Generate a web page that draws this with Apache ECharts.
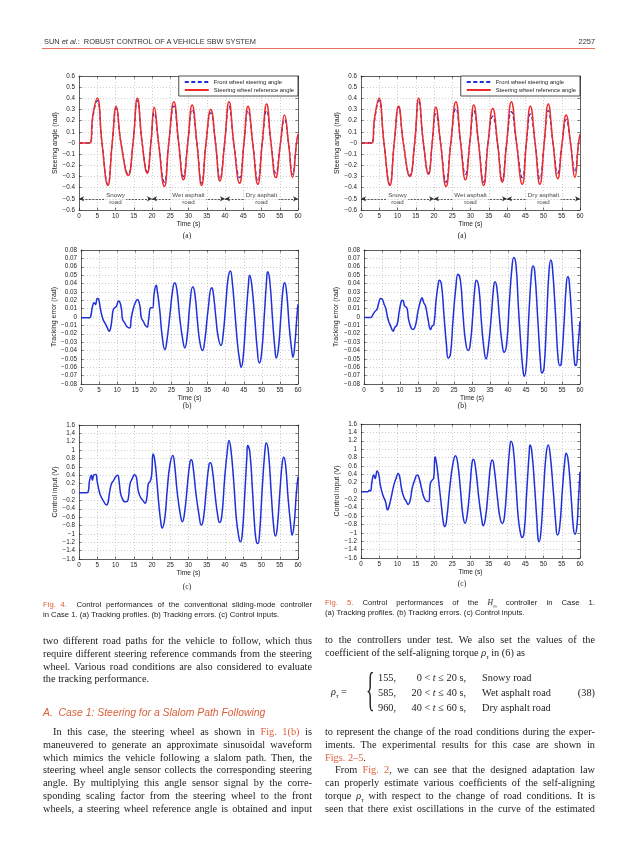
<!DOCTYPE html>
<html>
<head>
<meta charset="utf-8">
<script src="https://cdn.jsdelivr.net/npm/echarts@6/dist/echarts.min.js"></script>
<style>
html,body{margin:0;padding:0;background:#fff;}
#page{position:relative;width:638px;height:851px;overflow:hidden;background:#fff;}
#chart{position:absolute;left:0;top:0;width:638px;height:851px;}
.abs{position:absolute;}
.sans{font-family:"Liberation Sans",Arial,Helvetica,sans-serif;}
.serif{font-family:"Liberation Serif","Times New Roman",Times,serif;}
.hdr{font-size:7.4px;color:#333;white-space:nowrap;}
.cap{font-size:7.7px;line-height:9.5px;color:#222;}
.cap div{text-align:justify;text-align-last:justify;height:9.5px;}
.cap div.last{text-align-last:left;}
.org{color:#e0603c;}
.col{font-size:10.3px;line-height:12.8px;color:#222;}
.col div{text-align:justify;text-align-last:justify;height:12.8px;white-space:normal;}
.col div.last{text-align-last:left;}
.col div.ind{text-indent:10px;}
.eq{font-size:10.3px;color:#222;white-space:nowrap;line-height:12px;}
</style>
</head>
<body>
<div id="page">
<div id="chart"></div>

<div class="abs sans hdr" style="left:44px;top:37px;">SUN <i>et al.</i>:&nbsp; ROBUST CONTROL OF A VEHICLE SBW SYSTEM</div>
<div class="abs sans hdr" style="left:560px;top:37px;width:35px;text-align:right;">2257</div>
<div class="abs" style="left:42px;top:48px;width:553px;height:1px;background:#e8735a;"></div>

<div class="abs sans cap" style="left:43px;top:600px;width:269px;">
<div><span class="org">Fig. 4.</span>&nbsp; Control performances of the conventional sliding-mode controller</div>
<div class="last">in Case 1. (a) Tracking profiles. (b) Tracking errors. (c) Control inputs.</div>
</div>
<div class="abs sans cap" style="left:325px;top:598px;width:270px;">
<div><span class="org">Fig. 5.</span> Control performances of the <i class="serif">H</i><sub style="font-size:5px;">∞</sub> controller in Case 1.</div>
<div class="last">(a) Tracking profiles. (b) Tracking errors. (c) Control inputs.</div>
</div>

<div class="abs serif col" style="left:43px;top:635px;width:269px;">
<div>two different road paths for the vehicle to follow, which thus</div>
<div>require different steering reference commands from the steering</div>
<div>wheel. Various road conditions are also considered to evaluate</div>
<div class="last">the tracking performance.</div>
</div>
<div class="abs sans" style="left:43px;top:707px;font-size:10.4px;font-style:italic;color:#d9603b;white-space:nowrap;">A.&nbsp; Case 1: Steering for a Slalom Path Following</div>
<div class="abs serif col" style="left:43px;top:726px;width:269px;">
<div class="ind">In this case, the steering wheel as shown in <span class="org">Fig. 1(b)</span> is</div>
<div>maneuvered to generate an approximate sinusoidal waveform</div>
<div>which mimics the vehicle following a slalom path. Then, the</div>
<div>steering wheel angle sensor collects the corresponding steering</div>
<div>angle. By multiplying this angle sensor signal by the corre-</div>
<div>sponding scaling factor from the steering wheel to the front</div>
<div>wheels, a steering wheel reference angle is obtained and input</div>
</div>

<div class="abs serif col" style="left:325px;top:634px;width:270px;">
<div>to the controllers under test. We also set the values of the</div>
<div class="last">coefficient of the self-aligning torque <i>ρ<sub style="font-size:7px;">τ</sub></i> in (6) as</div>
</div>

<div class="abs serif eq" style="left:331px;top:686px;"><i>ρ</i><sub style="font-size:7px;"><i>τ</i></sub> =</div>
<div class="abs serif" style="left:366px;top:664px;font-size:47px;line-height:50px;color:#222;transform:scaleX(0.38);transform-origin:left top;">{</div>
<div class="abs serif eq" style="left:378px;top:672px;">155,</div>
<div class="abs serif eq" style="left:378px;top:687px;">585,</div>
<div class="abs serif eq" style="left:378px;top:702px;">960,</div>
<div class="abs serif eq" style="left:390px;top:672px;width:76px;text-align:right;">0 &lt; <i>t</i> ≤ 20 s,</div>
<div class="abs serif eq" style="left:390px;top:687px;width:76px;text-align:right;">20 &lt; <i>t</i> ≤ 40 s,</div>
<div class="abs serif eq" style="left:390px;top:702px;width:76px;text-align:right;">40 &lt; <i>t</i> ≤ 60 s,</div>
<div class="abs serif eq" style="left:482px;top:672px;">Snowy road</div>
<div class="abs serif eq" style="left:482px;top:687px;">Wet asphalt road</div>
<div class="abs serif eq" style="left:482px;top:702px;">Dry asphalt road</div>
<div class="abs serif eq" style="left:560px;top:687px;width:35px;text-align:right;">(38)</div>

<div class="abs serif col" style="left:325px;top:726px;width:270px;">
<div>to represent the change of the road conditions during the exper-</div>
<div>iments. The experimental results for this case are shown in</div>
<div class="last"><span class="org">Figs. 2–5</span>.</div>
<div class="ind">From <span class="org">Fig. 2</span>, we can see that the designed adaptation law</div>
<div>can properly estimate various coefficients of the self-aligning</div>
<div>torque <i>ρ<sub style="font-size:7px;">τ</sub></i> with respect to the change of road conditions. It is</div>
<div>seen that there exist oscillations in the curve of the estimated</div>
</div>
</div>

<script>
// ---------- data ----------
const timeTicks = [0, 60, 5];
const seriesNames = ['Front wheel steering angle', 'Steering wheel reference angle'];
const roadNames = ['Snowy\nroad', 'Wet asphalt\nroad', 'Dry asphalt\nroad'];
const roadSegments = [[0, 20], [20, 40], [40, 60]];
const roadLevel = -0.5;

const refAngleL = [[0,0],[2.9,0],[3.8,0.25],[5.0,0.40],[6.3,0],[7.9,-0.38],[9.1,0],[10.2,0.33],[11.5,0],[13.5,-0.29],[14.8,0],[16.0,0.40],[17.3,0],[18.7,-0.27],[19.7,0],[20.6,0.32],[21.8,0],[23.4,-0.39],[24.6,0],[26.0,0.37],[27.3,0],[28.6,-0.33],[29.8,0],[31.0,0.34],[32.3,0],[33.6,-0.38],[34.8,0],[36.1,0.30],[37.4,0],[38.6,-0.34],[39.9,0],[41.1,0.37],[42.4,0],[44.0,-0.36],[45.2,0],[46.3,0.33],[47.6,0],[49.0,-0.37],[50.2,0],[51.4,0.35],[52.6,0],[53.9,-0.31],[55.2,0],[56.3,0.25],[57.4,0],[58.5,-0.31],[59.6,0],[60,0.08]];
const frontAngleL = [[0,0],[2.95,0],[3.85,0.24],[5.0,0.38],[6.3,0],[7.9,-0.37],[9.1,0],[10.2,0.31],[11.5,0],[13.5,-0.28],[14.8,0],[16.0,0.38],[17.3,0],[18.7,-0.26],[19.7,0],[20.6,0.27],[21.8,0],[23.4,-0.35],[24.6,0],[26.0,0.33],[27.3,0],[28.6,-0.30],[29.8,0],[31.0,0.30],[32.3,0],[33.6,-0.36],[34.8,0],[36.1,0.27],[37.4,0],[38.6,-0.32],[39.9,0],[41.1,0.33],[42.4,0],[44.0,-0.31],[45.2,0],[46.3,0.29],[47.6,0],[49.0,-0.34],[50.2,0],[51.4,0.29],[52.6,0],[53.9,-0.27],[55.2,0],[56.3,0.21],[57.4,0],[58.5,-0.28],[59.6,0],[60,0.07]];
const refAngleR = [[0,0],[2.9,0],[3.7,0.22],[4.9,0.40],[6.3,0],[7.9,-0.38],[9.1,0],[10.3,0.33],[11.6,0],[13.4,-0.30],[14.7,0],[15.8,0.40],[17.1,0],[18.5,-0.28],[19.5,0],[20.5,0.32],[21.8,0],[23.3,-0.39],[24.6,0],[26.0,0.37],[27.3,0],[28.6,-0.33],[29.8,0],[30.9,0.34],[32.2,0],[33.6,-0.38],[34.8,0],[36.1,0.31],[37.4,0],[38.7,-0.35],[39.9,0],[41.2,0.37],[42.6,0],[44.2,-0.37],[45.3,0],[46.4,0.33],[47.7,0],[49.0,-0.37],[50.2,0],[51.3,0.35],[52.6,0],[53.9,-0.32],[55.1,0],[56.2,0.25],[57.4,0],[58.6,-0.31],[59.6,0],[60,0.08]];
const frontAngleR = [[0,0],[2.95,0],[3.75,0.21],[4.9,0.38],[6.3,0],[7.9,-0.37],[9.1,0],[10.3,0.32],[11.6,0],[13.4,-0.29],[14.7,0],[15.8,0.38],[17.1,0],[18.5,-0.27],[19.5,0],[20.5,0.26],[21.8,0],[23.3,-0.35],[24.6,0],[26.0,0.31],[27.3,0],[28.6,-0.28],[29.8,0],[30.9,0.29],[32.2,0],[33.6,-0.35],[34.8,0],[36.1,0.24],[37.4,0],[38.7,-0.33],[39.9,0],[41.2,0.28],[42.6,0],[44.2,-0.31],[45.3,0],[46.4,0.26],[47.7,0],[49.0,-0.32],[50.2,0],[51.3,0.29],[52.6,0],[53.9,-0.27],[55.1,0],[56.2,0.21],[57.4,0],[58.6,-0.26],[59.6,0],[60,0.06]];

const errL = [[0,-0.001],[2.4,-0.001],[2.7,0.001],[3.2,0.013],[3.6,0.017],[4.0,0.015],[4.5,0.022],[4.9,0.021],[5.4,0.009],[6.1,-0.003],[6.6,-0.007],[7.3,-0.013],[7.8,-0.017],[8.2,-0.013],[8.6,-0.001],[8.95,0.009],[9.8,0.013],[10.4,0.019],[10.8,0.017],[11.2,0.009],[11.5,-0.003],[12.1,-0.007],[12.8,-0.012],[13.5,-0.013],[13.9,-0.001],[14.4,0.009],[15.0,0.017],[15.6,0.021],[16.2,0.015],[16.7,-0.001],[17.2,-0.005],[17.8,-0.010],[18.3,-0.012],[18.7,-0.003],[19.3,0.011],[19.8,0.011],[20.2,0.027],[20.8,0.038],[21.1,0.031],[21.8,0.007],[22.4,-0.021],[23.2,-0.039],[23.6,-0.033],[24.6,0.003],[25.3,0.031],[25.9,0.041],[26.5,0.033],[27.3,-0.001],[28.2,-0.029],[28.7,-0.037],[29.4,-0.021],[30.1,0.015],[30.9,0.036],[31.5,0.027],[32.2,-0.005],[32.9,-0.031],[33.6,-0.040],[34.2,-0.029],[35.2,0.011],[36.1,0.035],[36.5,0.031],[37.3,-0.001],[37.9,-0.023],[38.7,-0.034],[39.3,-0.021],[40.1,0.019],[40.7,0.047],[41.3,0.055],[41.8,0.043],[42.6,0.003],[43.3,-0.033],[43.9,-0.053],[44.3,-0.060],[44.9,-0.045],[45.6,-0.001],[46.3,0.039],[46.6,0.050],[47.2,0.039],[48.1,-0.005],[48.7,-0.037],[49.3,-0.055],[49.9,-0.045],[50.7,0.003],[51.3,0.043],[51.6,0.054],[52.2,0.043],[53.0,-0.005],[53.6,-0.037],[54.0,-0.049],[54.6,-0.037],[55.3,0.003],[55.9,0.035],[56.3,0.041],[56.9,0.027],[57.6,-0.013],[58.3,-0.041],[58.6,-0.048],[59.2,-0.029],[59.6,-0.005],[60,0.015]];
const errR = [[0,-0.0005],[1.85,-0.0005],[2.5,0.003],[3.1,0.007],[3.6,0.009],[4.1,0.017],[4.6,0.022],[5.1,0.021],[5.6,0.015],[6.0,0.011],[6.7,-0.003],[7.4,-0.011],[8.1,-0.017],[8.5,-0.013],[9.2,-0.009],[9.8,0.007],[10.4,0.019],[10.8,0.020],[11.3,0.013],[11.9,0.011],[12.4,-0.003],[13.1,-0.013],[13.6,-0.015],[14.3,-0.010],[15.0,0.007],[15.7,0.019],[16.1,0.023],[16.6,0.017],[17.1,0.013],[17.8,-0.003],[18.5,-0.015],[18.9,-0.011],[19.4,-0.009],[20.0,0.019],[20.6,0.039],[20.9,0.044],[21.5,0.039],[22.2,0.003],[22.9,-0.033],[23.4,-0.049],[24.0,-0.045],[24.7,-0.005],[25.5,0.035],[26.1,0.051],[26.8,0.043],[27.5,0.003],[28.2,-0.029],[28.9,-0.040],[29.5,-0.033],[30.3,0.007],[30.8,0.035],[31.2,0.044],[31.9,0.035],[32.6,-0.005],[33.3,-0.037],[33.9,-0.050],[34.4,-0.041],[35.4,0.003],[36.0,0.035],[36.4,0.042],[36.9,0.035],[37.7,-0.005],[38.4,-0.033],[38.9,-0.042],[39.6,-0.033],[40.4,0.019],[41.1,0.059],[41.6,0.071],[42.2,0.063],[42.9,0.011],[43.7,-0.041],[44.2,-0.065],[44.5,-0.071],[45.1,-0.057],[45.8,0.003],[46.5,0.051],[46.9,0.061],[47.4,0.055],[48.3,-0.005],[49.0,-0.053],[49.4,-0.067],[50.0,-0.061],[50.7,-0.005],[51.4,0.055],[51.9,0.068],[52.3,0.061],[53.2,0.003],[53.9,-0.049],[54.4,-0.058],[54.8,-0.055],[55.6,-0.005],[56.2,0.039],[56.6,0.048],[57.0,0.043],[57.9,-0.017],[58.5,-0.055],[58.9,-0.058],[59.4,-0.037],[60,-0.005]];

const ctrlL = [[0,-0.02],[2.0,-0.02],[2.5,0],[2.9,0.28],[3.4,0.40],[3.65,0.28],[4.1,0.41],[4.6,0.42],[5.0,0.24],[5.7,-0.04],[6.1,-0.12],[6.8,-0.23],[7.5,-0.31],[7.9,-0.27],[8.4,0],[8.9,0.20],[9.5,0.28],[10.0,0.36],[10.6,0.40],[10.95,0.28],[11.4,-0.04],[11.9,-0.16],[12.5,-0.23],[12.9,-0.23],[13.4,-0.20],[14.0,0.20],[14.6,0.32],[15.2,0.41],[15.7,0.36],[16.2,0.04],[16.8,-0.12],[17.5,-0.20],[18.1,-0.27],[18.6,-0.12],[19.0,0.20],[19.5,0.25],[19.9,0.40],[20.3,0.91],[20.7,0.79],[21.2,0.40],[21.8,-0.23],[22.4,-0.71],[22.8,-0.86],[23.5,-0.63],[24.2,0.08],[24.9,0.64],[25.7,0.87],[26.2,0.64],[26.9,0],[27.8,-0.56],[28.3,-0.71],[28.9,-0.51],[29.7,0.16],[30.4,0.71],[30.8,0.77],[31.2,0.64],[32.1,-0.08],[32.9,-0.56],[33.5,-0.79],[34.1,-0.63],[34.9,0.08],[35.6,0.64],[36.0,0.70],[36.5,0.56],[37.3,-0.08],[38.0,-0.56],[38.5,-0.73],[39.1,-0.59],[39.9,0.32],[40.6,0.95],[41.1,1.23],[41.6,1.03],[42.4,0.24],[43.1,-0.63],[43.7,-1.03],[44.2,-1.19],[44.7,-1.03],[45.4,-0.08],[46.0,0.87],[46.2,1.11],[46.8,0.95],[47.5,0.08],[48.1,-0.79],[48.6,-1.19],[49.0,-1.23],[49.5,-0.95],[50.2,0.08],[50.9,0.95],[51.3,1.17],[51.9,0.95],[52.7,-0.08],[53.3,-0.79],[53.8,-1.05],[54.3,-0.87],[55.1,0.08],[55.7,0.71],[56.1,0.83],[56.6,0.64],[57.3,-0.16],[58.0,-0.79],[58.4,-1.03],[59.0,-0.71],[59.5,-0.08],[60,0.36]];
const ctrlR = [[0,-0.016],[1.9,-0.016],[2.3,0.02],[2.6,0],[3.0,0.22],[3.5,0.38],[3.9,0.30],[4.4,0.48],[4.9,0.38],[5.3,0.14],[6.0,-0.10],[6.7,-0.25],[7.3,-0.45],[7.8,-0.33],[8.3,-0.14],[9.0,0.14],[9.6,0.30],[10.2,0.42],[10.6,0.34],[11.1,0.06],[11.7,-0.14],[12.4,-0.25],[12.9,-0.32],[13.5,-0.21],[14.0,0.06],[14.7,0.26],[15.4,0.38],[15.8,0.34],[16.6,0.06],[17.2,-0.14],[17.9,-0.24],[18.5,-0.25],[19.0,0.18],[19.5,0.26],[19.9,0.30],[20.3,0.82],[20.7,0.66],[21.3,0.22],[22.1,-0.41],[22.6,-0.77],[23.0,-0.85],[23.5,-0.65],[24.3,0.06],[25.2,0.66],[25.9,0.84],[26.5,0.66],[27.3,-0.016],[27.9,-0.57],[28.5,-0.77],[29.1,-0.57],[29.9,0.14],[30.4,0.66],[30.8,0.76],[31.4,0.54],[32.3,-0.18],[33.1,-0.69],[33.5,-0.83],[34.1,-0.65],[34.9,0.06],[35.5,0.62],[36.0,0.74],[36.5,0.54],[37.4,-0.18],[38.1,-0.65],[38.7,-0.77],[39.3,-0.61],[40.1,0.30],[40.7,0.98],[41.1,1.19],[41.7,1.02],[42.4,0.22],[43.1,-0.65],[43.7,-1.01],[44.1,-1.11],[44.7,-0.97],[45.4,-0.016],[46.1,0.94],[46.3,1.10],[46.8,0.94],[47.6,0.06],[48.2,-0.73],[48.5,-1.13],[48.8,-1.21],[49.3,-0.97],[50.0,-0.016],[50.7,0.86],[51.3,1.10],[51.8,0.90],[52.7,-0.016],[53.4,-0.81],[53.8,-1.05],[54.4,-0.89],[55.2,0.06],[55.9,0.78],[56.2,0.90],[56.8,0.70],[57.6,-0.18],[58.2,-0.89],[58.6,-1.03],[59.1,-0.89],[59.6,-0.18],[60,0.46]];

const yRangeAngle = [-0.6, 0.6, 0.1];
const yRangeError = [-0.08, 0.08, 0.01];
const yRangeInput = [-1.6, 1.6, 0.2];
const yNames = ['Steering angle (rad)', 'Tracking error (rad)', 'Control input (V)'];
const panelLabels = ['(a)', '(b)', '(c)'];

// ---------- chart ----------
const FONT = '"Liberation Sans", Arial, Helvetica, sans-serif';
const BLUE = '#2030d8', RED = '#ee2a2a', INK = '#222';

function fmtTick(v, zeroMinus) {
  const r = Math.round(v * 1000) / 1000;
  if (r === 0) return zeroMinus ? '\u22120' : '0';
  const s = String(Math.abs(r));
  return r < 0 ? '\u2212' + s : s;
}

const layout = [
  {g: [79, 76, 219, 134], yr: yRangeAngle, name: yNames[0], gap: 19, zm: true},
  {g: [361, 76, 219, 134], yr: yRangeAngle, name: yNames[0], gap: 19, zm: true},
  {g: [81, 250, 217, 134], yr: yRangeError, name: yNames[1], gap: 22, zm: false},
  {g: [364, 250, 216, 134], yr: yRangeError, name: yNames[1], gap: 24, zm: false},
  {g: [79, 425, 219, 134], yr: yRangeInput, name: yNames[2], gap: 20, zm: false},
  {g: [361, 424, 219, 134], yr: yRangeInput, name: yNames[2], gap: 20, zm: false}
];

const grids = [], xAxes = [], yAxes = [], series = [];
const tick = {show: true, inside: true, length: 2.5, lineStyle: {color: INK, width: 0.6}};
const axLine = {show: true, onZero: false, lineStyle: {color: INK, width: 0.7}};
const split = {show: true, lineStyle: {color: '#9a9a9a', width: 0.5, type: [1, 2]}};
layout.forEach((p, i) => {
  grids.push({left: p.g[0], top: p.g[1], width: p.g[2], height: p.g[3], containLabel: false, outerBoundsMode: 'none', show: false});
  xAxes.push({type: 'value', gridIndex: i, min: timeTicks[0], max: timeTicks[1], interval: timeTicks[2], position: 'bottom',
    axisLine: axLine, axisTick: tick, splitLine: split,
    axisLabel: {fontSize: 6.3, fontFamily: FONT, color: INK, margin: 3},
    name: 'Time (s)', nameLocation: 'middle', nameGap: 11,
    nameTextStyle: {fontSize: 6.6, fontFamily: FONT, color: INK}});
  xAxes.push({type: 'value', gridIndex: i, min: timeTicks[0], max: timeTicks[1], interval: timeTicks[2], position: 'top',
    axisLine: axLine, axisTick: tick, splitLine: {show: false}, axisLabel: {show: false}});
  yAxes.push({type: 'value', gridIndex: i, min: p.yr[0], max: p.yr[1], interval: p.yr[2], position: 'left',
    axisLine: axLine, axisTick: tick, splitLine: split,
    axisLabel: {fontSize: 6.3, fontFamily: FONT, color: INK, margin: 4, formatter: v => fmtTick(v, p.zm)},
    name: p.name, nameLocation: 'middle', nameGap: p.gap,
    nameTextStyle: {fontSize: 7, fontFamily: FONT, color: INK}});
  yAxes.push({type: 'value', gridIndex: i, min: p.yr[0], max: p.yr[1], interval: p.yr[2], position: 'right',
    axisLine: axLine, axisTick: tick, splitLine: {show: false}, axisLabel: {show: false}});
});

function lineSeries(i, name, data, color, width, dashed, smooth) {
  return {type: 'line', name: name, xAxisIndex: 2 * i, yAxisIndex: 2 * i, data: data,
    symbol: 'none', showSymbol: false, smooth: smooth, animation: false, silent: true,
    lineStyle: {color: color, width: width, type: dashed ? [4, 2.5] : 'solid'},
    itemStyle: {color: color}};
}
function roadMarks(i) {
  return {
    type: 'scatter', xAxisIndex: 2 * i, yAxisIndex: 2 * i, z: 6, silent: true, animation: false,
    symbolSize: 1, itemStyle: {color: 'transparent'},
    data: roadSegments.map(s => [(s[0] + s[1]) / 2, roadLevel]),
    label: {show: true, position: 'inside', formatter: q => roadNames[q.dataIndex],
      fontSize: 6.2, lineHeight: 6.6, fontFamily: FONT, color: '#111', backgroundColor: '#fff', padding: [0, 1.5], align: 'center'},
    markLine: {silent: true, animation: false, symbol: ['arrow', 'arrow'], symbolSize: [4, 5],
      lineStyle: {color: '#333', width: 0.8, type: [2, 1.3]}, label: {show: false},
      data: roadSegments.map(s => [{coord: [s[0], roadLevel]}, {coord: [s[1], roadLevel]}])}
  };
}

series.push(lineSeries(0, seriesNames[0], frontAngleL, BLUE, 1.3, true, 0.5));
series.push(lineSeries(0, seriesNames[1], refAngleL, RED, 1.5, false, 0.5));
series.push(roadMarks(0));
series.push(lineSeries(1, seriesNames[0], frontAngleR, BLUE, 1.3, true, 0.5));
series.push(lineSeries(1, seriesNames[1], refAngleR, RED, 1.5, false, 0.5));
series.push(roadMarks(1));
series.push(lineSeries(2, 'errL', errL, BLUE, 1.5, false, 0.5));
series.push(lineSeries(3, 'errR', errR, BLUE, 1.5, false, 0.5));
series.push(lineSeries(4, 'ctrlL', ctrlL, BLUE, 1.5, false, 0.5));
series.push(lineSeries(5, 'ctrlR', ctrlR, BLUE, 1.5, false, 0.5));

function legendAt(right) {
  return {right: right, top: 76, orient: 'vertical', data: seriesNames, selectedMode: false,
    itemWidth: 24, itemHeight: 7, itemGap: 2, padding: [3, 4, 3, 5],
    itemStyle: {opacity: 0},
    backgroundColor: '#fff', borderColor: INK, borderWidth: 0.8, borderRadius: 0,
    textStyle: {fontSize: 5.8, fontFamily: FONT, color: INK}};
}

const labelPos = [[187, 236], [462, 236], [187, 406], [462, 406], [187, 587], [462, 584]];
const graphics = labelPos.map((pt, k) => ({type: 'text', x: pt[0], y: pt[1], silent: true,
  style: {text: panelLabels[Math.floor(k / 2)], fontSize: 7.5, fontFamily: '"Liberation Serif", serif',
    fill: INK, align: 'center', verticalAlign: 'middle'}}));

const chart = echarts.init(document.getElementById('chart'), null, {renderer: 'canvas'});
chart.setOption({
  backgroundColor: 'transparent',
  animation: false,
  grid: grids, xAxis: xAxes, yAxis: yAxes, series: series,
  legend: [legendAt(638 - 298), legendAt(638 - 580)],
  graphic: graphics,
  tooltip: {show: false}
});
</script>
</body>
</html>
